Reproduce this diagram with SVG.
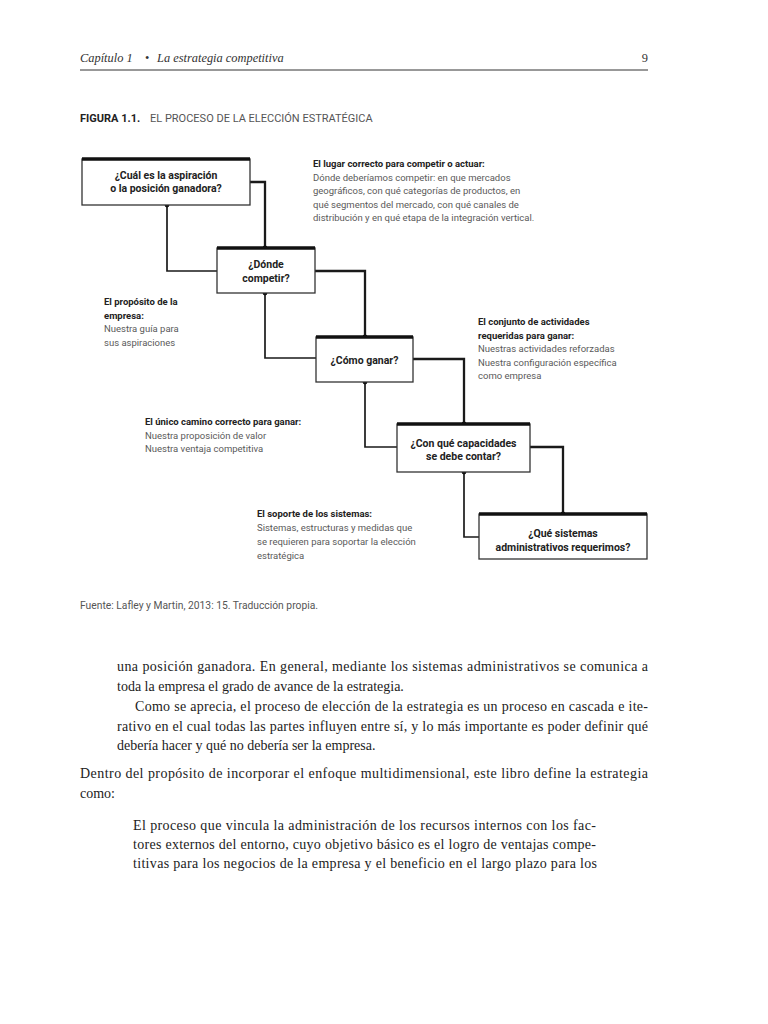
<svg xmlns="http://www.w3.org/2000/svg" width="768" height="1024" viewBox="0 0 768 1024">
<style>
.hdr{font-family:"Liberation Serif",serif;font-style:italic;font-size:12.4px;fill:#333}
.cap{font-family:Roboto,"Liberation Sans",sans-serif;font-size:11px;fill:#555}
.capb{font-family:Roboto,"Liberation Sans",sans-serif;font-size:11px;font-weight:bold;fill:#222}
.src{font-family:Roboto,"Liberation Sans",sans-serif;font-size:10.3px;fill:#555}
.bx{fill:#fff;stroke:#333;stroke-width:1.3}
.top{stroke:#111;stroke-width:3.5}
.bt{font-family:Roboto,"Liberation Sans",sans-serif;font-size:10.5px;font-weight:bold;fill:#222;text-anchor:middle}
.ah{font-family:Roboto,"Liberation Sans",sans-serif;font-size:9.5px;font-weight:bold;fill:#222}
.ab{font-family:Roboto,"Liberation Sans",sans-serif;font-size:9.5px;fill:#5a5a5a}
.con{fill:none;stroke:#1a1a1a;stroke-width:2.3}
.con2{fill:none;stroke:#1a1a1a;stroke-width:1.7}
.dot{fill:#111}
.body{font-family:"Liberation Serif",serif;font-size:14px;fill:#222}
</style>
<rect width="768" height="1024" fill="#fff"/>
<g id="header">
<text class="hdr" x="80" y="62">Capítulo 1</text>
<text class="hdr" x="145" y="62" style="font-style:normal">•</text>
<text class="hdr" x="157" y="62">La estrategia competitiva</text>
<text class="hdr" x="648" y="62" text-anchor="end" style="font-style:normal">9</text>
<line x1="80" y1="70" x2="648" y2="70" stroke="#333" stroke-width="1"/>
</g>
<g id="title">
<text class="capb" x="80" y="122">FIGURA 1.1.</text>
<text class="cap" x="150" y="122">EL PROCESO DE LA ELECCIÓN ESTRATÉGICA</text>
</g>
<g id="connectors">
<polyline class="con" points="250,182 265,182 265,248"/>
<polyline class="con2" points="167,205 167,271 217,271"/>
<polyline class="con" points="315,271 365,271 365,337"/>
<polyline class="con2" points="265,293 265,358 316,358"/>
<polyline class="con" points="413,359 464,359 464,424"/>
<polyline class="con2" points="365,382 365,447 397,447"/>
<polyline class="con" points="530,447 563,447 563,514"/>
<polyline class="con2" points="464,472 464,537 479,537"/>
<circle class="dot" cx="167" cy="205" r="2.4"/>
<circle class="dot" cx="265" cy="248" r="2.4"/>
<circle class="dot" cx="265" cy="293" r="2.4"/>
<circle class="dot" cx="365" cy="337" r="2.4"/>
<circle class="dot" cx="365" cy="382" r="2.4"/>
<circle class="dot" cx="464" cy="424" r="2.4"/>
<circle class="dot" cx="464" cy="472" r="2.4"/>
<circle class="dot" cx="563" cy="514" r="2.4"/>
</g>
<g id="n1">
<rect class="bx" x="82" y="159" width="168" height="46"/>
<line class="top" x1="82" y1="159" x2="250" y2="159"/>
<text class="bt" x="166" y="178.5">¿Cuál es la aspiración</text>
<text class="bt" x="166" y="192">o la posición ganadora?</text>
</g>
<g id="n2">
<rect class="bx" x="217" y="248" width="98" height="45"/>
<line class="top" x1="217" y1="248" x2="315" y2="248"/>
<text class="bt" x="266" y="267.5">¿Dónde</text>
<text class="bt" x="266" y="281.5">competir?</text>
</g>
<g id="n3">
<rect class="bx" x="316" y="337" width="97" height="45"/>
<line class="top" x1="316" y1="337" x2="413" y2="337"/>
<text class="bt" x="364.5" y="363.5">¿Cómo ganar?</text>
</g>
<g id="n4">
<rect class="bx" x="397" y="424" width="133" height="48"/>
<line class="top" x1="397" y1="424" x2="530" y2="424"/>
<text class="bt" x="463.5" y="446.5">¿Con qué capacidades</text>
<text class="bt" x="463.5" y="460">se debe contar?</text>
</g>
<g id="n5">
<rect class="bx" x="479" y="514" width="168" height="45"/>
<line class="top" x1="479" y1="514" x2="647" y2="514"/>
<text class="bt" x="563" y="536.5">¿Qué sistemas</text>
<text class="bt" x="563" y="550.5">administrativos requerimos?</text>
</g>
<g id="a1">
<text class="ah" x="313" y="167">El lugar correcto para competir o actuar:</text>
<text class="ab" x="313" y="180.5">Dónde deberíamos competir: en que mercados</text>
<text class="ab" x="313" y="194">geográficos, con qué categorías de productos, en</text>
<text class="ab" x="313" y="207.5">qué segmentos del mercado, con qué canales de</text>
<text class="ab" x="313" y="221">distribución y en qué etapa de la integración vertical.</text>
</g>
<g id="a2">
<text class="ah" x="104" y="305">El propósito de la</text>
<text class="ah" x="104" y="318.5">empresa:</text>
<text class="ab" x="104" y="332">Nuestra guía para</text>
<text class="ab" x="104" y="345.5">sus aspiraciones</text>
</g>
<g id="a3">
<text class="ah" x="478" y="325">El conjunto de actividades</text>
<text class="ah" x="478" y="338.5">requeridas para ganar:</text>
<text class="ab" x="478" y="352">Nuestras actividades reforzadas</text>
<text class="ab" x="478" y="365.5">Nuestra configuración específica</text>
<text class="ab" x="478" y="379">como empresa</text>
</g>
<g id="a4">
<text class="ah" x="145" y="425">El único camino correcto para ganar:</text>
<text class="ab" x="145" y="438.5">Nuestra proposición de valor</text>
<text class="ab" x="145" y="452">Nuestra ventaja competitiva</text>
</g>
<g id="a5">
<text class="ah" x="257" y="517">El soporte de los sistemas:</text>
<text class="ab" x="257" y="531">Sistemas, estructuras y medidas que</text>
<text class="ab" x="257" y="545">se requieren para soportar la elección</text>
<text class="ab" x="257" y="559">estratégica</text>
</g>
<g id="source">
<text class="src" x="80" y="609">Fuente: Lafley y Martin, 2013: 15. Traducción propia.</text>
</g>
<g id="bodytext">
<text class="body" x="117" y="671" textLength="531" lengthAdjust="spacing">una posición ganadora. En general, mediante los sistemas administrativos se comunica a</text>
<text class="body" x="117" y="691">toda la empresa el grado de avance de la estrategia.</text>
<text class="body" x="135" y="711" textLength="513" lengthAdjust="spacing">Como se aprecia, el proceso de elección de la estrategia es un proceso en cascada e ite-</text>
<text class="body" x="117" y="731" textLength="531" lengthAdjust="spacing">rativo en el cual todas las partes influyen entre sí, y lo más importante es poder definir qué</text>
<text class="body" x="117" y="750">debería hacer y qué no debería ser la empresa.</text>
<text class="body" x="80" y="778" textLength="568" lengthAdjust="spacing">Dentro del propósito de incorporar el enfoque multidimensional, este libro define la estrategia</text>
<text class="body" x="80" y="798">como:</text>
<text class="body" x="133" y="830" textLength="463" lengthAdjust="spacing">El proceso que vincula la administración de los recursos internos con los fac-</text>
<text class="body" x="133" y="849" textLength="463" lengthAdjust="spacing">tores externos del entorno, cuyo objetivo básico es el logro de ventajas compe-</text>
<text class="body" x="133" y="868" textLength="464" lengthAdjust="spacing">titivas para los negocios de la empresa y el beneficio en el largo plazo para los</text>
</g>
</svg>
